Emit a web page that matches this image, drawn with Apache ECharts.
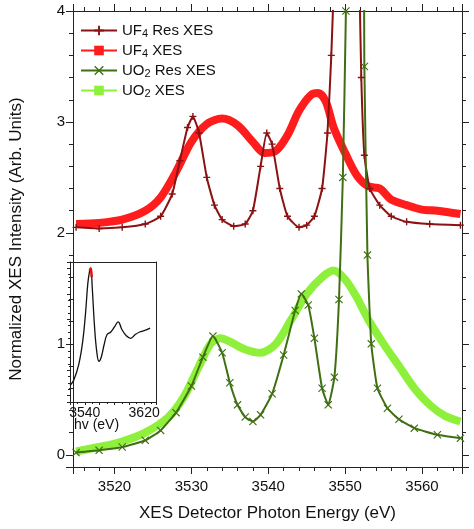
<!DOCTYPE html>
<html><head><meta charset="utf-8">
<script src="https://cdn.jsdelivr.net/npm/echarts@6/dist/echarts.min.js"></script>
<style>html,body{margin:0;padding:0;background:#fff}#c{width:474px;height:529px}</style>
</head><body><div id="c"></div>
<script>
// [energy, intensity]
const uf4Res = [[3515,2.05],[3518,2.04],[3521,2.05],[3524,2.08],[3526,2.15],[3527.5,2.35],[3528.5,2.65],[3529.5,2.95],[3530.2,3.05],[3531,2.9],[3532,2.5],[3533,2.25],[3534,2.12],[3535.5,2.06],[3537,2.08],[3538,2.2],[3539,2.6],[3539.8,2.9],[3540.5,2.8],[3541.5,2.4],[3542.5,2.15],[3544,2.05],[3545,2.07],[3546,2.15],[3547,2.4],[3547.7,2.9],[3548.2,3.6],[3548.7,4.6],[3549.2,6],[3551.5,6],[3551.8,4.5],[3552.1,3.4],[3552.5,2.7],[3553.2,2.4],[3554.5,2.25],[3556,2.15],[3558,2.1],[3561,2.08],[3565,2.07]];
const uf4Xes = [[3515,2.08],[3518,2.09],[3521,2.12],[3524,2.2],[3526,2.32],[3528,2.55],[3530,2.82],[3532,2.98],[3534,3.03],[3536,2.97],[3538,2.82],[3539.5,2.72],[3541,2.74],[3542.5,2.88],[3544,3.1],[3545.5,3.24],[3546.5,3.26],[3547.5,3.18],[3548.5,2.95],[3550,2.72],[3551.5,2.52],[3553,2.42],[3554.5,2.4],[3556,2.3],[3558,2.25],[3560,2.21],[3562,2.2],[3565,2.17]];
const uo2Res = [[3515,0.02],[3518,0.04],[3521,0.07],[3524,0.13],[3526,0.22],[3528,0.38],[3530,0.62],[3531.5,0.88],[3532.8,1.07],[3534,0.92],[3535,0.65],[3536,0.45],[3537,0.34],[3538,0.3],[3539,0.36],[3540.5,0.55],[3542,0.9],[3543.5,1.3],[3544.3,1.45],[3545.2,1.35],[3546,1.05],[3547,0.6],[3547.8,0.45],[3548.6,0.7],[3549.2,1.4],[3549.7,2.5],[3550.1,4],[3550.4,6],[3552.2,6],[3552.5,3.5],[3552.9,1.8],[3553.4,1.0],[3554.2,0.6],[3555.5,0.42],[3557,0.32],[3559,0.24],[3562,0.18],[3565,0.15]];
const uo2Xes = [[3515,0.03],[3518,0.07],[3521,0.12],[3524,0.2],[3527,0.34],[3529,0.52],[3531,0.8],[3532.5,1.0],[3533.8,1.05],[3535,1.02],[3537,0.95],[3539,0.92],[3541,1.0],[3543,1.22],[3545,1.45],[3547,1.6],[3548.5,1.66],[3550,1.58],[3551.5,1.42],[3553,1.22],[3555,1.0],[3557,0.8],[3559,0.6],[3561,0.45],[3563,0.35],[3565,0.3]];
const inset = [[3520,0.08],[3525,0.12],[3532,0.25],[3537,0.42],[3541,0.65],[3544,0.88],[3546.5,0.98],[3548,1.0],[3550,0.85],[3553,0.55],[3556,0.35],[3559,0.27],[3562,0.3],[3566,0.4],[3570,0.48],[3575,0.5],[3580,0.54],[3585,0.58],[3590,0.52],[3596,0.47],[3602,0.45],[3608,0.48],[3614,0.5],[3620,0.51],[3628,0.53]];
const insetPeak = [[3546.5,0.98],[3548,1.0],[3549.2,0.93]];
const insetLabels = [3540, 3620];

const plusIcon = 'path://M4,0H6V4H10V6H6V10H4V6H0V4H4Z';
const xIcon = 'path://M1,0L5,4L9,0L10,1L6,5L10,9L9,10L5,6L1,10L0,9L4,5L0,1Z';
const F = 'Liberation Sans, Arial, sans-serif';
const rich = {a:{fontSize:15,fontFamily:F,color:'#111'}, s:{fontSize:11,fontFamily:F,color:'#111',padding:[6,0,0,0]}};
const names = {'UF4 Res XES':'{a|UF}{s|4}{a| Res XES}','UF4 XES':'{a|UF}{s|4}{a| XES}','UO2 Res XES':'{a|UO}{s|2}{a| Res XES}','UO2 XES':'{a|UO}{s|2}{a| XES}'};
const axisL = {lineStyle:{color:'#222',width:1}};
const chart = echarts.init(document.getElementById('c'));
chart.setOption({
  animation:false,
  grid:[{left:70,right:12,top:11,bottom:62,show:false},{left:70,top:262,width:86,height:140,show:true,backgroundColor:'#fff',borderWidth:0}],
  legend:{left:75,top:18,orient:'vertical',itemGap:4,itemWidth:36,itemHeight:12,
    formatter:n=>names[n],textStyle:{rich}, data:['UF4 Res XES','UF4 XES','UO2 Res XES','UO2 XES']},
  graphic:[{type:'text',left:74,top:418,z:100,style:{text:'hv (eV)',fontSize:14,fontFamily:F,fill:'#111'}}],
  xAxis:[
    {gridIndex:0,type:'value',min:3514.6,max:3565.2,splitNumber:5,axisLine:{onZero:false,...axisL},axisTick:{length:7},minorTick:{show:true,splitNumber:5,length:4},splitLine:{show:false},
     axisLabel:{showMinLabel:false,showMaxLabel:false,fontSize:15,fontFamily:F,color:'#111',margin:12,formatter:v=>String(v)},
     name:'XES Detector Photon Energy (eV)',nameLocation:'middle',nameGap:38,nameTextStyle:{fontSize:17,fontFamily:F,color:'#111'}},
    {gridIndex:0,type:'value',position:'top',min:3514.6,max:3565.2,splitNumber:5,axisLine:{onZero:false,...axisL},axisTick:{length:7},minorTick:{show:true,splitNumber:5,length:4},splitLine:{show:false},axisLabel:{show:false}},
    {gridIndex:1,type:'value',min:3520,max:3636,interval:20,axisLine:{onZero:false,...axisL},axisTick:{length:3},minorTick:{show:true,splitNumber:2,length:2},splitLine:{show:false},
     axisLabel:{fontSize:14,fontFamily:F,color:'#111',margin:4,formatter:v=>insetLabels.includes(v)?String(v):''}},
    {gridIndex:1,type:'value',position:'top',min:3520,max:3636,axisLine:{onZero:false,...axisL},axisTick:{show:false},splitLine:{show:false},axisLabel:{show:false}}
  ],
  yAxis:[
    {gridIndex:0,type:'value',min:-0.11,max:4,splitNumber:4,axisLine:{onZero:false,...axisL},axisTick:{length:7},minorTick:{show:true,splitNumber:5,length:4},splitLine:{show:false},
     axisLabel:{showMinLabel:false,fontSize:15,fontFamily:F,color:'#111'},
     name:'Normalized XES Intensity (Arb. Units)',nameLocation:'middle',nameGap:48,nameTextStyle:{fontSize:17,fontFamily:F,color:'#111'}},
    {gridIndex:0,type:'value',position:'right',min:-0.11,max:4,splitNumber:4,axisLine:{onZero:false,...axisL},axisTick:{length:7},minorTick:{show:true,splitNumber:5,length:4},splitLine:{show:false},axisLabel:{show:false}},
    {gridIndex:1,type:'value',min:-0.05,max:1.05,axisLine:{onZero:false,...axisL},axisTick:{length:3},minorTick:{show:true,splitNumber:4,length:2},splitLine:{show:false},axisLabel:{show:false}},
    {gridIndex:1,type:'value',position:'right',min:-0.05,max:1.05,axisLine:{onZero:false,...axisL},axisTick:{show:false},splitLine:{show:false},axisLabel:{show:false}}
  ],
  series:[
    {name:'UF4 XES',type:'line',data:uf4Xes,smooth:0.3,xAxisIndex:0,yAxisIndex:0,symbol:'rect',symbolSize:[3,8],showSymbol:false,lineStyle:{color:'#ff1c1c',width:8},itemStyle:{color:'#ff1c1c'}},
    {name:'UO2 XES',type:'line',data:uo2Xes,smooth:0.3,xAxisIndex:0,yAxisIndex:0,symbol:'rect',symbolSize:[2,8],showSymbol:false,lineStyle:{color:'#8ef03a',width:8},itemStyle:{color:'#8ef03a'}},
    {name:'UF4 Res XES',type:'line',data:uf4Res,smooth:0.15,xAxisIndex:0,yAxisIndex:0,symbol:plusIcon,symbolSize:7,lineStyle:{color:'#8b1212',width:2},itemStyle:{color:'#8b1212'}},
    {name:'UO2 Res XES',type:'line',data:uo2Res,smooth:0.15,xAxisIndex:0,yAxisIndex:0,symbol:xIcon,symbolSize:8,lineStyle:{color:'#3f6f12',width:2},itemStyle:{color:'#3f6f12'}},
    {type:'line',data:inset,smooth:0.4,xAxisIndex:2,yAxisIndex:2,showSymbol:false,lineStyle:{color:'#111',width:1.3},silent:true,z:5},
    {type:'line',data:insetPeak,smooth:0.4,xAxisIndex:2,yAxisIndex:2,showSymbol:false,lineStyle:{color:'#e01010',width:2.5},silent:true,z:6}
  ]
});
</script></body></html>
